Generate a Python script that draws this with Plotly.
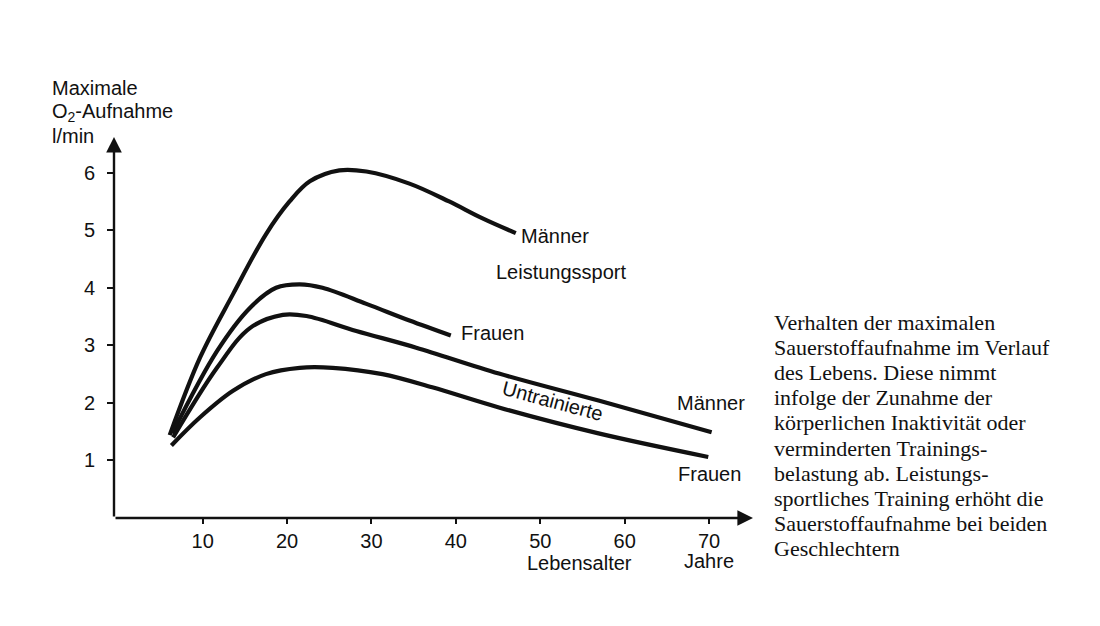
import plotly.graph_objects as go

# --- data ---
maenner_leistung_x = [6.1, 9.7, 13.6, 17.5, 20.3, 22.7, 26.2, 29.4, 34.5, 39.2, 43.1, 47.1]
maenner_leistung_y = [1.44, 2.79, 3.89, 4.93, 5.5, 5.85, 6.04, 6.02, 5.81, 5.5, 5.21, 4.95]

frauen_leistung_x = [6.4, 11.7, 15.6, 18.7, 21.5, 24.2, 29.4, 34.5, 39.4]
frauen_leistung_y = [1.47, 2.9, 3.65, 4.0, 4.06, 4.0, 3.72, 3.43, 3.17]

maenner_untr_x = [6.5, 11.7, 15.6, 19.5, 22.3, 28.2, 35.3, 45.1, 56.9, 70.3]
maenner_untr_y = [1.40, 2.61, 3.30, 3.53, 3.51, 3.25, 2.96, 2.51, 2.04, 1.49]

frauen_untr_x = [6.3, 9.7, 13.6, 17.5, 21.5, 25.4, 31.3, 37.2, 45.1, 56.9, 69.9]
frauen_untr_y = [1.26, 1.75, 2.21, 2.5, 2.61, 2.61, 2.5, 2.27, 1.92, 1.47, 1.06]

x_ticks = [10, 20, 30, 40, 50, 60, 70]
y_ticks = [1, 2, 3, 4, 5, 6]

caption_lines = [
    "Verhalten der maximalen",
    "Sauerstoffaufnahme im Verlauf",
    "des Lebens. Diese nimmt",
    "infolge der Zunahme der",
    "körperlichen Inaktivität oder",
    "verminderten Trainings-",
    "belastung ab. Leistungs-",
    "sportliches Training erhöht die",
    "Sauerstoffaufnahme bei beiden",
    "Geschlechtern",
]

INK = "#111111"
SANS = "Liberation Sans, Arial, sans-serif"
SERIF = "Liberation Serif, Times New Roman, serif"

OFF = 8  # page body margin in the browser
W, H = 1100, 626
# plot area in (screen) pixels
L, R, T, B = 114 - OFF, 753.3 - OFF, 136.5 - OFF, 518 - OFF
X0, X1 = -0.5, 75.2
Y0, Y1 = 0, 6.62


def paper_x(px):
    return (px - OFF - L) / (R - L)


def paper_y(py):
    return (B - (py - OFF)) / (B - T)


fig = go.Figure()
for xs, ys in [(maenner_leistung_x, maenner_leistung_y),
               (frauen_leistung_x, frauen_leistung_y),
               (maenner_untr_x, maenner_untr_y),
               (frauen_untr_x, frauen_untr_y)]:
    fig.add_trace(go.Scatter(x=xs, y=ys, mode="lines",
                             line=dict(color=INK, width=4.2, shape="spline", smoothing=1.0),
                             hoverinfo="skip", showlegend=False))

ann = []
# axes with arrowheads
ann.append(dict(x=X0, y=Y1, ax=X0, ay=0, xref="x", yref="y", axref="x", ayref="y",
                text="", showarrow=True, arrowhead=2, arrowsize=1.3, arrowwidth=2.4,
                arrowcolor=INK, standoff=0, startstandoff=0))
ann.append(dict(x=X1, y=0, ax=X0, ay=0, xref="x", yref="y", axref="x", ayref="y",
                text="", showarrow=True, arrowhead=2, arrowsize=1.3, arrowwidth=2.4,
                arrowcolor=INK, standoff=0, startstandoff=0))


def label(text, px, py, size=20, angle=0, xanchor="center", font=SANS):
    ann.append(dict(x=paper_x(px), y=paper_y(py), xref="paper", yref="paper", text=text,
                    showarrow=False, xanchor=xanchor, yanchor="middle", textangle=angle,
                    font=dict(family=font, size=size, color=INK)))


label("Maximale", 50, 87, xanchor="left")
label("O<sub>2</sub>-Aufnahme", 50, 112, xanchor="left")
label("l/min", 50, 135, xanchor="left")

label("Männer", 555, 236)
label("Leistungssport", 562, 272)
label("Frauen", 493, 333)
label("Untrainierte", 553, 401, angle=15)
label("Männer", 711, 403)
label("Frauen", 710, 474)
label("Lebensalter", 580, 563)
label("Jahre", 709, 561)

for i, line in enumerate(caption_lines):
    label(line, 772, 322 + i * 25.2, size=22, xanchor="left", font=SERIF)

fig.update_layout(
    width=W, height=H,
    margin=dict(l=L, r=W - R, t=T, b=H - B),
    paper_bgcolor="white", plot_bgcolor="white",
    showlegend=False,
    annotations=ann,
    xaxis=dict(range=[X0, X1], tickvals=x_ticks, ticktext=[str(v) for v in x_ticks],
               ticks="outside", ticklen=5, tickwidth=2, tickcolor=INK, automargin=False,
               showgrid=False, zeroline=False, showline=False,
               tickfont=dict(family=SANS, size=20, color=INK), ticklabelstandoff=0),
    yaxis=dict(range=[Y0, Y1], tickvals=y_ticks, ticktext=[str(v) for v in y_ticks],
               ticks="outside", ticklen=6, tickwidth=2, tickcolor=INK, automargin=False,
               showgrid=False, zeroline=False, showline=False,
               tickfont=dict(family=SANS, size=20, color=INK), ticklabelstandoff=8),
)

fig.write_html("out.html")
